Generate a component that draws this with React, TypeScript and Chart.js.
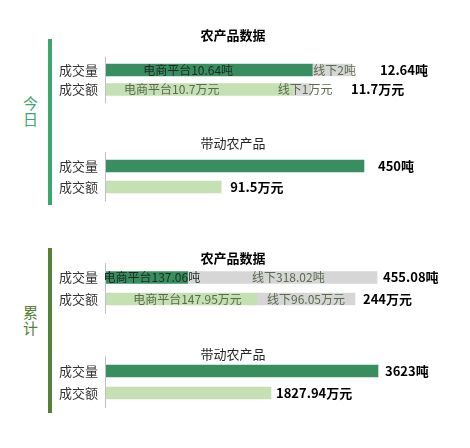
import { useEffect, useRef } from 'react';
import { Chart, registerables } from 'chart.js';

Chart.register(...registerables);

const FONT = '"Noto Sans CJK SC", "Noto Sans", sans-serif';

// ---- data ----
const rowLabels = ['成交量', '成交额'];
const rowUnits = ['吨', '万元'];
const onlinePrefix = '电商平台';
const offlinePrefix = '线下';
const farmTitle = '农产品数据';
const drivenTitle = '带动农产品';
const todayLabel = '今日';
const cumLabel = '累计';

// 今日
const todayFarmOnline = [10.64, 10.7];
const todayFarmOffline = [2, 1];
const todayFarmTotal = [12.64, 11.7];
const todayDriven = [450, 91.5];
// 累计
const cumFarmOnline = [137.06, 147.95];
const cumFarmOffline = [318.02, 96.05];
const cumFarmTotal = [455.08, 244];
const cumDriven = [3623, 1827.94];

// per-row axis maxima (each row has its own hidden value axis)
const todayFarmAxisMax = [18.57, 20.55];
const todayDrivenAxisMax = [628, 286];
const cumFarmAxisMax = [604.5, 352.8];
const cumDrivenAxisMax = [4795, 3988];

// ---- styles ----
const DARK = '#388e5f';
const LIGHT = '#c5e0b3';
const GRAY = '#d6d6d6';
const rowColors = [DARK, LIGHT];
const labelOnDark = '#1c2a21';
const labelOnLight = '#5a6a4c';

type Segment = {
  values: number[];
  colors: string[];
  prefix?: string;
  labelColors?: string[];
  shift?: number[];
};

type Spec = {
  title: string;
  bold: boolean;
  segments: Segment[];
  totals: number[];
  axisMax: number[];
  titleY: number;
  areaTop: number;
  areaBottom: number;
  totalGap: number[];
};

const specs: Spec[] = [
  {
    title: farmTitle,
    bold: true,
    segments: [
      { values: todayFarmOnline, colors: rowColors, prefix: onlinePrefix, labelColors: [labelOnDark, labelOnLight], shift: [-21, -28] },
      { values: todayFarmOffline, colors: [GRAY, GRAY], prefix: offlinePrefix, labelColors: [labelOnLight, labelOnLight], shift: [3, 3] },
    ],
    totals: todayFarmTotal,
    axisMax: todayFarmAxisMax,
    titleY: 35,
    areaTop: 60.25,
    areaBottom: 99.25,
    totalGap: [29, 40],
  },
  {
    title: drivenTitle,
    bold: false,
    segments: [{ values: todayDriven, colors: rowColors }],
    totals: todayDriven,
    axisMax: todayDrivenAxisMax,
    titleY: 143,
    areaTop: 155.5,
    areaBottom: 197.5,
    totalGap: [14, 9],
  },
  {
    title: farmTitle,
    bold: true,
    segments: [
      { values: cumFarmOnline, colors: rowColors, prefix: onlinePrefix, labelColors: [labelOnDark, labelOnLight], shift: [5, 6] },
      { values: cumFarmOffline, colors: [GRAY, GRAY], prefix: offlinePrefix, labelColors: [labelOnLight, labelOnLight], shift: [6, 0] },
    ],
    totals: cumFarmTotal,
    axisMax: cumFarmAxisMax,
    titleY: 258,
    areaTop: 266.75,
    areaBottom: 309.75,
    totalGap: [6, 8],
  },
  {
    title: drivenTitle,
    bold: false,
    segments: [{ values: cumDriven, colors: rowColors }],
    totals: cumDriven,
    axisMax: cumDrivenAxisMax,
    titleY: 354,
    areaTop: 360,
    areaBottom: 404,
    totalGap: [7, 5],
  },
];

const WIDTH = 470;
const Y_AXIS_W = 106;
const RIGHT_PAD = 4;

function BarBlock({ spec }: { spec: Spec }) {
  const ref = useRef<HTMLCanvasElement>(null);
  const lh = 13 * 1.2;
  const canvasTop = Math.floor(spec.titleY - 10);
  const pt = spec.titleY - lh / 2 - canvasTop;
  const pb = spec.areaTop - spec.titleY - lh / 2;
  const height = Math.ceil(spec.areaBottom + 8 - canvasTop);
  const padBottom = canvasTop + height - spec.areaBottom;

  useEffect(() => {
    if (!ref.current) return;
    const datasets: any[] = [];
    spec.segments.forEach((seg) => {
      rowLabels.forEach((_, ri) => {
        datasets.push({
          label: (seg.prefix || '') + rowLabels[ri],
          data: rowLabels.map((__, k) => (k === ri ? seg.values[ri] : null)),
          xAxisID: 'x' + ri,
          backgroundColor: seg.colors[ri],
          barThickness: 12,
          rowIndex: ri,
          prefix: seg.prefix,
          labelColor: seg.labelColors ? seg.labelColors[ri] : '#333',
          shift: seg.shift ? seg.shift[ri] : 0,
        });
      });
    });

    const axisLine = {
      id: 'axisLine',
      beforeDatasetsDraw(chart: any) {
        const { ctx, chartArea } = chart;
        ctx.save();
        ctx.strokeStyle = '#bfbfbf';
        ctx.lineWidth = 1;
        ctx.beginPath();
        ctx.moveTo(chartArea.left - 0.5, chartArea.top - 3.5);
        ctx.lineTo(chartArea.left - 0.5, chartArea.bottom + 4);
        ctx.stroke();
        ctx.restore();
      },
    };

    const segLabels = {
      id: 'segLabels',
      afterDatasetsDraw(chart: any) {
        const ctx = chart.ctx;
        ctx.save();
        ctx.textBaseline = 'middle';
        const ends: { x: number; y: number }[] = [];
        chart.data.datasets.forEach((ds: any, i: number) => {
          const ri = ds.rowIndex;
          const v = ds.data[ri];
          if (v == null) return;
          const el = chart.getDatasetMeta(i).data[ri];
          if (!el) return;
          const { x, y, base } = el.getProps(['x', 'y', 'base'], true);
          if (!ends[ri] || x > ends[ri].x) ends[ri] = { x, y };
          if (ds.prefix) {
            ctx.font = `12px ${FONT}`;
            ctx.fillStyle = ds.labelColor;
            ctx.textAlign = 'center';
            ctx.fillText(ds.prefix + v + rowUnits[ri], (x + base) / 2 + ds.shift, y);
          }
        });
        ends.forEach((e, ri) => {
          if (!e) return;
          ctx.font = `bold 13px ${FONT}`;
          ctx.fillStyle = '#000';
          ctx.textAlign = 'left';
          ctx.fillText(spec.totals[ri] + rowUnits[ri], e.x + spec.totalGap[ri], e.y);
        });
        ctx.restore();
      },
    };

    const scales: any = {
      y: {
        type: 'category',
        stacked: true,
        offset: true,
        grid: { display: false, drawTicks: false },
        border: { display: false },
        ticks: { padding: 8, color: '#333', font: { family: FONT, size: 13 } },
        afterFit: (s: any) => {
          s.width = Y_AXIS_W;
          s.paddingTop = 0;
          s.paddingBottom = 0;
        },
      },
    };
    rowLabels.forEach((_, ri) => {
      scales['x' + ri] = {
        type: 'linear',
        axis: 'x',
        position: 'bottom',
        display: false,
        stacked: true,
        min: 0,
        max: spec.axisMax[ri],
      };
    });

    const chart = new Chart(ref.current, {
      type: 'bar',
      data: { labels: rowLabels, datasets },
      options: {
        indexAxis: 'y',
        responsive: false,
        animation: false,
        layout: { padding: { left: 0, right: RIGHT_PAD, top: 0, bottom: padBottom } },
        scales,
        plugins: {
          legend: { display: false },
          tooltip: { enabled: false },
          title: {
            display: true,
            text: spec.title,
            color: spec.bold ? '#000' : '#262626',
            font: { family: FONT, size: 13, weight: spec.bold ? 'bold' : 'normal', lineHeight: 1.2 },
            padding: { top: pt, bottom: pb },
          },
        },
      } as any,
      plugins: [axisLine, segLabels],
    });
    return () => chart.destroy();
  }, []);

  return (
    <canvas
      ref={ref}
      width={WIDTH}
      height={height}
      style={{ position: 'absolute', left: 0, top: canvasTop, width: WIDTH, height }}
    />
  );
}

function SideMark({ text, color, lineTop, lineHeight, textCenter }: { text: string; color: string; lineTop: number; lineHeight: number; textCenter: number }) {
  return (
    <>
      <div style={{ position: 'absolute', left: 48, top: lineTop, width: 3.5, height: lineHeight, background: color }} />
      <div
        style={{
          position: 'absolute',
          left: 22,
          top: textCenter - 16,
          width: 17,
          fontSize: 15,
          lineHeight: '16px',
          textAlign: 'center',
          color,
          fontFamily: FONT,
        }}
      >
        {text.split('').map((c, i) => (
          <div key={i}>{c}</div>
        ))}
      </div>
    </>
  );
}

export default function App() {
  return (
    <div style={{ position: 'absolute', left: 0, top: 0, width: WIDTH, height: 448, background: '#fff', overflow: 'hidden' }}>
      <SideMark text={todayLabel} color="#3aa76d" lineTop={39} lineHeight={166} textCenter={110.5} />
      <SideMark text={cumLabel} color="#548235" lineTop={248} lineHeight={165} textCenter={319.5} />
      {specs.map((s, i) => (
        <BarBlock key={i} spec={s} />
      ))}
    </div>
  );
}
